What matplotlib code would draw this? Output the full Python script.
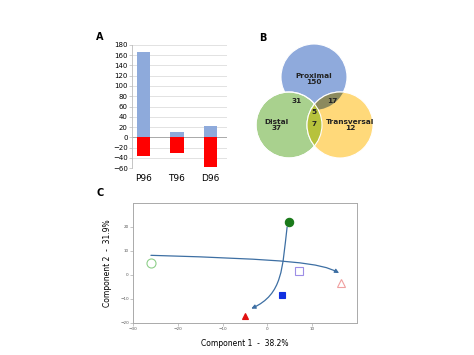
import matplotlib.pyplot as plt
from matplotlib.patches import Circle, FancyArrowPatch
from matplotlib.path import Path

# panel A data
samples = ['P96', 'T96', 'D96']
up_counts = [166, 10, 22]
down_counts = [-36, -30, -58]

# panel B data
venn_sets = ['Proximal', 'Distal', 'Transversal']
venn_only = [150, 37, 12]
venn_pd = 31
venn_pt = 17
venn_dt = 7
venn_all = 5

# panel C data
pc1 = [4.9, -26.0, 7.1, 16.5, 3.3, -5.0]
pc2 = [22.0, 5.0, 1.7, -3.3, -8.3, -17.0]
pt_marker = ['o', 'o', 's', '^', 's', '^']
pt_face = ['#1a7a1a', 'none', 'none', 'none', '#1030e0', '#e01010']
pt_edge = ['#1a7a1a', '#8fcf8a', '#9d8ee6', '#f0a0a0', '#1030e0', '#e01010']
pt_size = [6, 6.5, 6, 6, 5, 5]

W, H = 474, 355
fig = plt.figure(figsize=(4.74, 3.55), dpi=100)

def box(x0, y0, x1, y1):
    return [x0 / W, 1 - y1 / H, (x1 - x0) / W, (y1 - y0) / H]

# ---- A: bar chart
ax = fig.add_axes(box(132, 44.7, 227, 168.3))
x = range(len(samples))
ax.bar(x, up_counts, width=0.4, color='#8eaadb', zorder=3)
ax.bar(x, down_counts, width=0.4, color='#ff0000', zorder=3)
ax.set_ylim(-60, 180)
ax.set_xlim(-0.34, 2.49)
ax.set_yticks(range(-60, 181, 20))
ax.tick_params(axis='y', labelsize=5, length=2, width=0.5, color='#bbbbbb', pad=1)
ax.set_xticks(list(x))
ax.set_xticklabels(samples, fontsize=6.5)
ax.tick_params(axis='x', length=0, pad=4)
ax.grid(axis='y', color='#dddddd', lw=0.6, zorder=0)
ax.axhline(0, color='#aaaaaa', lw=0.7, zorder=2)
for s in ['top', 'right', 'bottom']:
    ax.spines[s].set_visible(False)
ax.spines['left'].set_color('#bbbbbb')
ax.spines['left'].set_linewidth(0.6)

# ---- B: venn, drawn in pixel coordinates of an overlay
ov = fig.add_axes([0, 0, 1, 1])
ov.set_xlim(0, W)
ov.set_ylim(H, 0)
ov.axis('off')
r = 33
c_prox = (314, 77)
c_dist = (289, 125)
c_trans = (340, 125)
blue = Circle(c_prox, r, fc='#8faadc', ec='white', lw=0.8, zorder=1)
ov.add_patch(blue)
green = Circle(c_dist, r, fc='#a9d18e', ec='white', lw=0.8, zorder=2)
ov.add_patch(green)
ov.add_patch(Circle(c_trans, r, fc='#ffd97a', ec='white', lw=0.8, zorder=3))
lens_pt = Circle(c_trans, r, fc='#8c8a5e', ec='white', lw=0.8, zorder=4)
ov.add_patch(lens_pt)
lens_pt.set_clip_path(blue)
lens_dt = Circle(c_trans, r, fc='#b7c23c', ec='white', lw=0.8, zorder=5)
ov.add_patch(lens_dt)
lens_dt.set_clip_path(green)
ov.add_patch(Circle(c_dist, r, fc='none', ec='white', lw=0.8, zorder=6))

tk = dict(fontsize=5.3, fontweight='bold', ha='center', va='center', color='#222222', zorder=10)
ov.text(314, 79, f'{venn_sets[0]}\n{venn_only[0]}', linespacing=1.0, **tk)
ov.text(277, 125, f'{venn_sets[1]}\n{venn_only[1]}', linespacing=1.0, **tk)
ov.text(350, 125, f'{venn_sets[2]}\n{venn_only[2]}', linespacing=1.0, **tk)
ov.text(297, 101, str(venn_pd), **tk)
ov.text(332, 101, str(venn_pt), **tk)
ov.text(314, 112, str(venn_all), **tk)
ov.text(314, 124, str(venn_dt), **tk)

# panel letters
for lab, px, py in [('A', 100, 37), ('B', 263, 38), ('C', 100, 193)]:
    ov.text(px, py, lab, fontsize=7, fontweight='bold', ha='center', va='center')

# ---- C: PCA scatter
axc = fig.add_axes(box(133, 203, 357, 323))
for i in range(len(pc1)):
    axc.plot(pc1[i], pc2[i], marker=pt_marker[i], ms=pt_size[i], mfc=pt_face[i],
             mec=pt_edge[i], mew=0.8, ls='none', zorder=4)
axc.set_xlim(-30, 20)
axc.set_ylim(-20, 30)
axc.set_xticks([-30, -20, -10, 0, 10])
axc.set_yticks([-20, -10, 0, 10, 20])
axc.tick_params(labelsize=3, length=2, width=0.4, color='#999999', pad=1,
                labelcolor='#555555')
for s in axc.spines.values():
    s.set_color('#aaaaaa')
    s.set_linewidth(0.7)
axc.set_xlabel('Component 1  -  38.2%', fontsize=5.5, labelpad=6)
axc.set_ylabel('Component 2  -  31.9%', fontsize=5.5, labelpad=6)

arrow_kw = dict(arrowstyle='-|>', mutation_scale=6, color='#3d6fa3', lw=0.9, zorder=3)
p1 = Path([(-26, 8.2), (5, 6.5), (12, 5), (16, 0.8)],
          [Path.MOVETO, Path.CURVE4, Path.CURVE4, Path.CURVE4])
axc.add_patch(FancyArrowPatch(path=p1, **arrow_kw))
p2 = Path([(4.4, 20), (3.3, 3), (3.5, -8), (-3.6, -14)],
          [Path.MOVETO, Path.CURVE4, Path.CURVE4, Path.CURVE4])
axc.add_patch(FancyArrowPatch(path=p2, **arrow_kw))

fig.savefig('out.png', dpi=100)
